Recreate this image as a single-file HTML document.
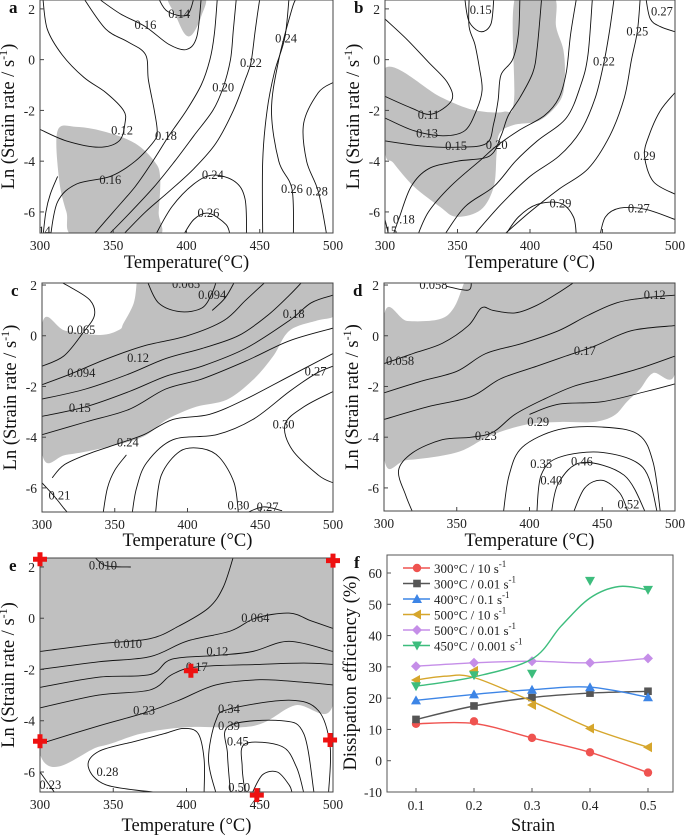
<!DOCTYPE html>
<html><head><meta charset="utf-8"><style>
html,body{margin:0;padding:0;background:#fff;}
svg{display:block;font-family:"Liberation Serif",serif;}
svg text{font-family:"Liberation Serif",serif;}
</style></head><body>
<svg id="fig" width="685" height="836" viewBox="0 0 685 836"></svg>
<script>
// ---------- data: panel a ----------
const aRegions=[[[388,2.5],[412,2.5],[410,1.7],[404,1.0],[399,1.0],[393,1.7]],
[[312,-2.8],[325,-2.65],[345,-2.85],[365,-3.3],[378,-4],[382,-4.6],[381,-6],[379,-7],[325,-7],[318,-6],[313,-4.7]]];
const aContours=[
{v:'0.12',pts:[[300,-2.75],[318,-3.2],[340,-3.45],[354,-3.2],[358,-2.5],[357,-2],[345,-1.3],[330,-0.7],[315,0.2],[305,1.2],[302,2.4]],lab:[356,-2.8]},
{v:'.14',pts:[[302,-7],[304,-6],[307,-5.3],[312,-4.6]],lab:[302,-6.75]},
{v:'0.16',pts:[[330,2.4],[345,1.2],[360,0.7],[372,0.2],[374,-0.8],[378,-2],[380,-2.8],[378,-3.2],[365,-4],[348,-4.6],[325,-4.9],[312,-5.6],[307,-7]],lab:[348,-4.75]},
{v:'0.16',pts:[[340,2.4],[355,1.8],[372,1.3],[388,0.6],[400,0.4],[407,0.9],[410,2.4]],lab:[372,1.37]},
{v:'0.14',pts:[[381,2.4],[387,1.9],[400,1.75],[405,2.4]],lab:[395,1.8]},
{v:'0.18',pts:[[335,-7],[350,-6],[365,-5],[377,-4],[388,-3],[400,-2],[410,-1],[416,0],[419,1],[421,2.4]],lab:[386,-3.0]},
{v:'0.20',pts:[[345,-7],[362,-6],[378,-5],[392,-4],[405,-3],[418,-2],[425,-1.1],[430,0],[432,1.2],[434,2.4]],lab:[425,-1.1]},
{v:'0.22',pts:[[355,-7],[372,-6],[388,-5.2],[405,-4.3],[420,-3.3],[432,-2],[440,-0.8],[444,-0.1],[447,1.2],[450,2.4]],lab:[444,-0.14]},
{v:'0.24',pts:[[452,-7],[452,-4],[455,-2],[460,-0.5],[467,0.84],[470,2.4]],lab:[468,0.84]},
{v:'0.24',pts:[[378,-7],[390,-5.8],[405,-4.9],[418,-4.55],[433,-4.8],[440,-5.5],[441,-7]],lab:[418,-4.55]},
{v:'0.26',pts:[[397,-7],[405,-6.3],[415,-6.05],[427,-6.5],[430,-7]],lab:[415,-6.05]},
{v:'0.26',pts:[[473,-7],[472,-5.1],[463,-4],[458,-2],[463,0],[472,2],[475,2.4]],lab:[472,-5.1]},
{v:'0.28',pts:[[496,-7],[490,-5.2],[482,-4],[480,-2.5],[490,-1.3],[500,-0.9]],lab:[489,-5.2]}];
// ---------- panel b ----------
const bRegions=[[[300,-0.34],[338,-1.46],[361,-1.98],[382,-2.05],[389,-1.59],[390,2.5],[416,2.5],[418,1.3],[423,0.38],[424,-0.67],[421,-1.59],[407,-2.38],[389,-2.57],[379,-2.9],[377,-3.7],[375,-5.0],[366,-5.92],[349,-6.19],[338,-5.8],[320,-5.0],[306,-4.08],[300,-3.56]]];
const bContours=[
{v:'0.15',pts:[[355,2.4],[358,1.5],[366,1.1],[373,1.4],[375,2.4]],lab:[366,1.96]},
{v:'0.11',pts:[[300,-1.45],[318,-1.9],[332,-2.15],[346,-1.6],[343,-0.9],[330,-0.1],[315,0.8],[300,1.6]],lab:[330,-2.18]},
{v:'0.13',pts:[[300,-2.3],[320,-2.8],[340,-3.0],[355,-2.8],[363,-2.0],[367,-1.2],[365,-0.3],[362,0.6],[358,1.3],[358,2.4]],lab:[329,-2.9]},
{v:'0.15',pts:[[300,-3.2],[325,-3.4],[350,-3.45],[370,-3.3],[375,-2.5],[378,-1.6],[380,-0.6],[388,0],[392,1],[393,2.4]],lab:[349,-3.4]},
{v:'0.18',pts:[[305,-7],[310,-6.2],[318,-5],[330,-4.3],[350,-4],[372,-3.8],[380,-3],[385,-2.2],[393,-1.5],[402,-0.5],[405,0.5],[408,2.4]],lab:[313,-6.3]},
{v:'.15',pts:[[300,-6.3],[303,-7]],lab:[303,-6.75]},
{v:'0.20',pts:[[322,-7],[330,-6],[345,-5],[365,-4],[377,-3.4],[392,-2.8],[410,-2.2],[420,-1.5],[425,-0.5],[428,1],[432,2.4]],lab:[377,-3.36]},
{v:'',pts:[[340,-7],[355,-5.8],[375,-5],[390,-4],[405,-3.2],[425,-2.3],[435,-1],[440,0.2],[443,2.4]],lab:null},
{v:'0.22',pts:[[360,-7],[380,-5.7],[400,-4.6],[420,-3.8],[435,-2.8],[445,-1.5],[451,-0.1],[455,1.2],[458,2.4]],lab:[451,-0.08]},
{v:'0.25',pts:[[380,-7],[400,-6],[420,-5.1],[440,-4.3],[455,-3],[465,-1.5],[470,0],[474,1.1],[476,2.4]],lab:[474,1.1]},
{v:'0.27',pts:[[480,2.4],[483,1.6],[490,1.3],[500,1.1]],lab:[491,1.9]},
{v:'0.29',pts:[[500,-1.3],[490,-2],[482,-3],[479,-3.8],[485,-4.8],[500,-5.3]],lab:[479,-3.8]},
{v:'0.29',pts:[[382,-7],[392,-6.2],[405,-5.7],[421,-5.66],[430,-6.2],[432,-7]],lab:[421,-5.66]},
{v:'0.27',pts:[[448,-7],[452,-6.2],[462,-5.85],[480,-5.9],[500,-6.3]],lab:[475,-5.86]}];
// ---------- panel c ----------
const cRegions=[[[300,0.43],[316,0.2],[340,0.03],[353,0.23],[356,0.49],[363,1.28],[365,2.07],[365,2.4],[487,2.4],[500,1.15],[500,0.75],[489,0.6],[470,0.2],[459,-0.8],[445,-1.74],[427,-2.52],[406,-2.8],[386,-3.3],[370,-3.97],[347,-4.36],[317,-4.69],[300,-4.62]]];
const cContours=[
{v:'0.065',pts:[[372,2.2],[380,1.3],[395,0.95],[410,1.1],[417,1.7],[420,2.2]],lab:[399,2.05]},
{v:'0.094',pts:[[433,2.2],[426,1.5],[417,1.0]],lab:[417,1.6]},
{v:'0.065',pts:[[300,-1.2],[315,-0.8],[328,0.1],[336,0.8],[333,1.4],[320,1.9],[310,2.2]],lab:[327,0.23]},
{v:'0.094',pts:[[300,-1.93],[320,-1.5],[345,-0.9],[370,-0.4],[400,0.0],[425,0.6],[440,1.4],[455,2.2]],lab:[327,-1.47]},
{v:'0.12',pts:[[300,-2.5],[330,-2.1],[360,-1.5],[385,-0.9],[410,-0.5],[435,0],[455,0.8],[470,1.6],[480,2.2]],lab:[366,-0.88]},
{v:'0.15',pts:[[300,-3.18],[330,-2.8],[360,-2.2],[385,-1.6],[410,-1.2],[440,-0.5],[470,0.6],[485,1.3],[500,1.6]],lab:[326,-2.85]},
{v:'0.18',pts:[[300,-3.9],[330,-3.4],[360,-2.9],[385,-2.1],[410,-1.7],[440,-1.0],[470,-0.2],[500,0.3]],lab:[473,0.85]},
{v:'0.24',pts:[[307,-5.6],[315,-5.1],[330,-4.7],[350,-4.3],[370,-3.9],[390,-3.3],[415,-3.1],[440,-2.5],[470,-1.6],[500,-0.7]],lab:[359,-4.2]},
{v:'0.27',pts:[[362,-7],[365,-6],[372,-5],[390,-4.1],[420,-3.9],[445,-3.3],[470,-2.2],[488,-1.5],[500,-1.2]],lab:[488,-1.4]},
{v:'0.30',pts:[[500,-2.2],[480,-2.8],[467,-3.5],[472,-4.5],[490,-5.5],[500,-5.8]],lab:[466,-3.5]},
{v:'0.30',pts:[[378,-7],[382,-5.5],[395,-4.55],[410,-4.45],[422,-4.8],[432,-5.8],[435,-7]],lab:[435,-6.7]},
{v:'0.27',pts:[[440,-7],[452,-6.75],[465,-6.9]],lab:[455,-6.75]},
{v:'0.21',pts:[[300,-5.8],[308,-6.3],[315,-6.8],[318,-7]],lab:[312,-6.3]},
{v:'',pts:[[342,-7],[345,-6],[350,-5.3],[358,-4.7]],lab:null}];
// ---------- panel d ----------
const dRegions=[[[300,0.78],[316,0.58],[338,0.65],[348,1.1],[355,2.07],[358,2.4],[500,2.4],[500,-1.47],[485,-1.47],[476,-2.1],[467,-2.6],[458,-3.15],[444,-3.4],[421,-3.4],[398,-3.5],[373,-3.94],[350,-4.6],[316,-4.9],[300,-4.8]]];
const dContours=[
{v:'0.058',pts:[[343,1.95],[358,1.8],[360,2.2]],lab:[334,2.0]},
{v:'0.058',pts:[[300,-1.1],[320,-0.7],[340,-0.3],[358,0.4],[367,1.1],[375,1.0],[390,0.9],[405,1.2],[420,1.7],[433,2.2]],lab:[311,-1.0]},
{v:'0.12',pts:[[300,-2.25],[325,-1.8],[350,-1.4],[370,-0.7],[395,-0.3],[420,0.2],[440,0.8],[460,1.3],[480,1.5],[500,1.6]],lab:[486,1.6]},
{v:'0.17',pts:[[300,-3.3],[330,-2.8],[360,-2.4],[380,-1.7],[405,-1.2],[425,-0.8],[445,-0.4],[470,0.2],[500,0.4]],lab:[438,-0.6]},
{v:'0.23',pts:[[320,-7],[315,-6.3],[310,-5.3],[320,-4.6],[340,-4.1],[360,-4],[375,-3.8],[390,-3.1],[410,-2.5],[430,-2.0],[450,-1.7],[475,-1.3],[500,-0.8]],lab:[370,-3.95]},
{v:'0.29',pts:[[400,-3.1],[420,-2.7],[450,-2.6],[480,-2.2],[500,-1.9]],lab:[406,-3.4]},
{v:'0.35',pts:[[382,-7],[386,-5.5],[395,-4.4],[420,-3.7],[450,-3.6],[475,-3.9],[485,-5],[490,-7]],lab:[408,-5.05]},
{v:'0.40',pts:[[405,-7],[408,-5.5],[420,-4.8],[450,-4.6],[478,-5.2],[488,-7]],lab:[415,-5.7]},
{v:'0.46',pts:[[415,-7],[420,-5.8],[436,-5.0],[465,-5.5],[480,-7]],lab:[436,-4.95]},
{v:'0.52',pts:[[430,-7],[438,-6.0],[450,-5.7],[462,-6.2],[468,-7]],lab:[468,-6.65]}];
// ---------- panel e ----------
const eRegions=[[[300,2.4],[487,2.4],[500,1.9],[500,-3.37],[474,-3.4],[446,-4.2],[400,-4.25],[369,-4.5],[341,-5.0],[300,-5.3]]];
const eContours=[
{v:'0.010',pts:[[337,2.4],[345,2.05],[362,2.0]],lab:[343,2.05]},
{v:'0.010',pts:[[300,-1.3],[340,-1.0],[375,-0.8],[395,-0.3],[415,0.4],[425,1.2],[432,2.4]],lab:[360,-1.0]},
{v:'0.064',pts:[[300,-2.0],[340,-1.7],[375,-1.5],[400,-0.9],[430,-0.5],[447,0.0],[470,0.2],[485,-0.1],[500,-0.4]],lab:[447,0.0]},
{v:'0.12',pts:[[300,-2.7],[340,-2.3],[375,-2.2],[390,-1.6],[421,-1.45],[445,-1.3],[470,-0.9],[500,-1.3]],lab:[421,-1.3]},
{v:'0.17',pts:[[300,-3.5],[340,-3.0],[375,-2.8],[390,-2.2],[407,-1.9],[450,-1.8],[480,-1.75],[500,-1.8]],lab:[407,-1.9]},
{v:'0.23',pts:[[300,-4.9],[340,-4.2],[371,-3.7],[395,-3.2],[420,-2.6],[450,-2.4],[480,-2.5],[500,-2.6]],lab:[371,-3.6]},
{v:'0.34',pts:[[420,-6.8],[415,-5.5],[420,-4.0],[429,-3.55],[470,-3.2],[490,-3.6],[498,-5],[497,-6.8]],lab:[429,-3.55]},
{v:'0.39',pts:[[430,-6.8],[428,-5.3],[429,-4.2],[465,-4.0],[480,-4.5],[487,-6.8]],lab:[429,-4.2]},
{v:'0.45',pts:[[440,-6.8],[438,-5.8],[440,-4.9],[465,-5.0],[475,-5.8],[480,-6.8]],lab:[435,-4.8]},
{v:'0.50',pts:[[445,-6.8],[452,-6.1],[462,-6.0],[470,-6.5],[472,-6.8]],lab:[436,-6.6]},
{v:'0.28',pts:[[380,-6.8],[345,-6.5],[333,-5.8],[340,-5.2],[365,-4.8],[385,-4.5],[398,-4.3],[408,-4.5],[412,-5.5],[412,-6.8]],lab:[346,-6.0]},
{v:'0.23',pts:[[300,-6.0],[305,-6.4],[310,-6.8]],lab:[307,-6.5]}];
const eCrossT=[300,500,403,300,498,448];
const eCrossL=[2.3,2.25,-2.05,-4.8,-4.75,-6.9];
// ---------- panel f ----------
const fStrain=[0.1,0.2,0.3,0.4,0.5];
const fNames=['300°C / 10 s','300°C / 0.01 s','400°C / 0.1 s','500°C / 10 s','500°C / 0.01 s','450°C / 0.001 s'];
const fRed=[11.8,12.6,7.3,2.7,-3.8];
const fGray=[13.2,17.5,20.2,21.6,22.2];
const fBlue=[19.3,21.2,22.7,23.5,20.3];
const fGold=[25.8,28.7,17.8,10.3,4.3];
const fPurple=[30.2,31.3,31.8,31.3,32.7];
const fGreen=[23.8,27.3,27.8,57.5,54.6];
const fGoldFitX=[0.1,0.15,0.2,0.3,0.4,0.5];
const fGoldFitY=[25.8,27.0,26.6,19.0,10.5,4.3];
const fGreenFitX=[0.1,0.2,0.3,0.35,0.4,0.45,0.5];
const fGreenFitY=[23.8,26.8,32.5,43,52,55.7,54.6];
const fRedFitY=[11.8,11.9,7.3,2.7,-3.8];
const fYTicks=[60,50,40,30,20,10,0,-10];
const fXTicks=[0.1,0.2,0.3,0.4,0.5];
const tTicks=[300,350,400,450,500];
const lnTicks=[2,0,-2,-4,-6];

const NS='http://www.w3.org/2000/svg';
const svg=document.getElementById('fig');
function mk(tag,attrs,parent){const e=document.createElementNS(NS,tag);for(const k in attrs)e.setAttribute(k,attrs[k]);if(tag==='text')e.setAttribute('font-family','Liberation Serif, serif');(parent||svg).appendChild(e);return e;}
function smooth(p){if(p.length<2)return '';let d='M'+p[0][0].toFixed(1)+','+p[0][1].toFixed(1);
for(let i=0;i<p.length-1;i++){const p0=p[i-1]||p[i],p1=p[i],p2=p[i+1],p3=p[i+2]||p2;
const c1=[p1[0]+(p2[0]-p0[0])/6,p1[1]+(p2[1]-p0[1])/6],c2=[p2[0]-(p3[0]-p1[0])/6,p2[1]-(p3[1]-p1[1])/6];
d+=' C'+c1[0].toFixed(1)+','+c1[1].toFixed(1)+' '+c2[0].toFixed(1)+','+c2[1].toFixed(1)+' '+p2[0].toFixed(1)+','+p2[1].toFixed(1);}return d;}
function smoothClosed(p){const n=p.length;let d='M'+p[0][0].toFixed(1)+','+p[0][1].toFixed(1);
for(let i=0;i<n;i++){const p0=p[(i-1+n)%n],p1=p[i],p2=p[(i+1)%n],p3=p[(i+2)%n];
const c1=[p1[0]+(p2[0]-p0[0])/6,p1[1]+(p2[1]-p0[1])/6],c2=[p2[0]-(p3[0]-p1[0])/6,p2[1]-(p3[1]-p1[1])/6];
d+=' C'+c1[0].toFixed(1)+','+c1[1].toFixed(1)+' '+c2[0].toFixed(1)+','+c2[1].toFixed(1)+' '+p2[0].toFixed(1)+','+p2[1].toFixed(1);}return d+'Z';}

function panel(id,letter,box,yTop,yBot,regions,contours,titleY){
  const sx=t=>box.x0+(t-300)/200*(box.x1-box.x0);
  const sy=v=>box.y0+(yTop-v)/(yTop-yBot)*(box.y1-box.y0);
  const g=mk('g',{});
  
  
  const cp=mk('clipPath',{id:'clip-'+id},g);
  mk('rect',{x:box.x0,y:box.y0,width:box.x1-box.x0,height:box.y1-box.y0},cp);
  const pg=mk('g',{'clip-path':'url(#clip-'+id+')'},g);
  regions.forEach((r,i)=>{const el=mk('path',{d:smoothClosed(r.map(q=>[sx(q[0]),sy(q[1])])),fill:'#c0c0c0'},pg);
    
    });
  contours.forEach((c,i)=>{const el=mk('path',{d:smooth(c.pts.map(q=>[sx(q[0]),sy(q[1])])),fill:'none',stroke:'#111','stroke-width':0.9},pg);
    
    });
  contours.forEach((c,i)=>{if(!c.lab||!c.v)return;
    const t=mk('text',{x:sx(c.lab[0]),y:sy(c.lab[1])+4,'font-size':12.5,'text-anchor':'middle',fill:'#222'},pg);t.textContent=c.v;
    
    });
  const fr=mk('rect',{x:box.x0,y:box.y0,width:box.x1-box.x0,height:box.y1-box.y0,fill:'none',stroke:'#444','stroke-width':1},g);
  
  
  tTicks.forEach(t=>{mk('line',{x1:sx(t),x2:sx(t),y1:box.y1,y2:box.y1-4,stroke:'#444'},g);
    const tx=mk('text',{x:sx(t),y:box.y1+17,'font-size':13.5,'text-anchor':'middle',fill:'#222'},g);tx.textContent=t;
    
    });
  lnTicks.forEach(v=>{mk('line',{x1:box.x0,x2:box.x0+4,y1:sy(v),y2:sy(v),stroke:'#444'},g);
    const tx=mk('text',{x:box.x0-5,y:sy(v)+5,'font-size':13.5,'text-anchor':'end',fill:'#222'},g);tx.textContent=v;
    
    });
  const xt=mk('text',{x:(box.x0+box.x1)/2,y:titleY,'font-size':18.5,'text-anchor':'middle',fill:'#111'},g);
  xt.textContent=(id==='a')?'Temperature(°C)':'Temperature (°C)';
  
  
  const cy=(box.y0+box.y1)/2, cx=box.x0-26;
  const yt=mk('text',{x:cx,y:cy,'font-size':18.5,'text-anchor':'middle',fill:'#111',transform:'rotate(-90 '+cx+' '+cy+')'},g);
  yt.innerHTML='Ln (Strain rate / s<tspan dy="-7" font-size="12">-1</tspan><tspan dy="7">)</tspan>';
  
  
  const lt=mk('text',{x:box.x0-31,y:box.y0+13,'font-size':17,'font-weight':'bold',fill:'#111'},g);lt.textContent=letter;
  
  
  return {sx,sy,g};
}
panel('a','a',{x0:40,x1:333,y0:0,y1:233},2.35,-6.83,aRegions,aContours,268);
panel('b','b',{x0:385,x1:675,y0:0,y1:233},2.35,-6.83,bRegions,bContours,268);
panel('c','c',{x0:42,x1:333,y0:283,y1:512},2.08,-6.95,cRegions,cContours,546);
panel('d','d',{x0:384,x1:675,y0:283,y1:511},2.08,-6.91,dRegions,dContours,546);
const pe=panel('e','e',{x0:40,x1:333,y0:558,y1:792},2.35,-6.78,eRegions,eContours,831);
eCrossT.forEach((t,i)=>{const x=pe.sx(t),y=pe.sy(eCrossL[i]);
  const c=mk('path',{d:`M${x-2.5},${y-7}h5v4.5h4.5v5h-4.5v4.5h-5v-4.5h-4.5v-5h4.5z`,fill:'#ee1111'},pe.g);
  
  });

// ---------- panel f ----------
(function(){
  const X0=387,X1=673,Y0=555,Y1=792;
  const sx=s=>416+(s-0.1)/0.4*(648-416);
  const sy=v=>573+(60-v)/70*(792-573);
  const g=mk('g',{});
  
  
  const fr=mk('rect',{x:X0,y:Y0,width:X1-X0,height:Y1-Y0,fill:'none',stroke:'#555'},g);
  
  
  fYTicks.forEach(v=>{mk('line',{x1:X0,x2:X0+4,y1:sy(v),y2:sy(v),stroke:'#555'},g);
    const t=mk('text',{x:X0-5,y:sy(v)+5,'font-size':13.5,'text-anchor':'end',fill:'#222'},g);t.textContent=v;
    
    });
  fXTicks.forEach(v=>{mk('line',{x1:sx(v),x2:sx(v),y1:Y1,y2:Y1-4,stroke:'#555'},g);
    const t=mk('text',{x:sx(v),y:Y1+18,'font-size':13.5,'text-anchor':'middle',fill:'#222'},g);t.textContent=v.toFixed(1);
    
    });
  const xt=mk('text',{x:533,y:831,'font-size':18.5,'text-anchor':'middle',fill:'#111'},g);xt.textContent='Strain';
  
  
  const cx=356,cy=673;
  const yt=mk('text',{x:cx,y:cy,'font-size':18.5,'text-anchor':'middle',fill:'#111',transform:'rotate(-90 '+cx+' '+cy+')'},g);yt.textContent='Dissipation efficiency (%)';
  
  
  const lt=mk('text',{x:354,y:568,'font-size':17,'font-weight':'bold',fill:'#111'},g);lt.textContent='f';
  
  
  const colors=['#ef5350','#555555','#3d85e6','#d6a62c','#c58ee8','#3dbd7d'];
  const marks=['circle','square','tri','left','diamond','down'];
  const series=[fRed,fGray,fBlue,fGold,fPurple,fGreen];
  const fitsX=[fStrain,fStrain,fStrain,fGoldFitX,fStrain,fGreenFitX];
  const fitsY=[fRedFitY,fGray,fBlue,fGoldFitY,fPurple,fGreenFitY];
  function marker(type,x,y,col,parent){
    let e;
    if(type==='circle')e=mk('circle',{cx:x,cy:y,r:4.2,fill:col},parent);
    else if(type==='square')e=mk('rect',{x:x-3.8,y:y-3.8,width:7.6,height:7.6,fill:col},parent);
    else if(type==='tri')e=mk('path',{d:`M${x},${y-5}L${x+5},${y+4}L${x-5},${y+4}Z`,fill:col},parent);
    else if(type==='down')e=mk('path',{d:`M${x},${y+5}L${x+5},${y-4}L${x-5},${y-4}Z`,fill:col},parent);
    else if(type==='left')e=mk('path',{d:`M${x-5},${y}L${x+4},${y-5}L${x+4},${y+5}Z`,fill:col},parent);
    else e=mk('path',{d:`M${x},${y-5}L${x+5},${y}L${x},${y+5}L${x-5},${y}Z`,fill:col},parent);
    return e;
  }
  series.forEach((s,i)=>{
    const l=mk('path',{d:smooth(fitsX[i].map((v,j)=>[sx(v),sy(fitsY[i][j])])),fill:'none',stroke:colors[i],'stroke-width':1.4},g);
    
    
    s.forEach((v,j)=>{const m=marker(marks[i],sx(fStrain[j]),sy(v),colors[i],g);
      
      });
  });
  fNames.forEach((n,i)=>{const y=568+i*15.5;
    const lg=mk('g',{},g);
    
    
    mk('line',{x1:403,x2:430,y1:y,y2:y,stroke:colors[i],'stroke-width':1.4},lg);
    marker(marks[i],417,y,colors[i],lg);
    const t=mk('text',{x:434,y:y+5,'font-size':13,fill:'#222'},lg);
    t.innerHTML=n+'<tspan dy="-6" font-size="9">-1</tspan>';});
})();
</script>
</body></html>
